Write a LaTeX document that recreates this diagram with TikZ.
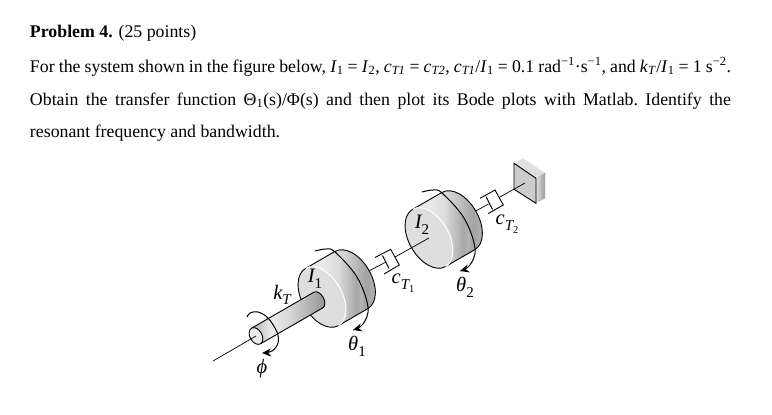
\documentclass[tikz,border=0pt]{standalone}
\usepackage{fontspec}
\setmainfont{Liberation Serif}
\usetikzlibrary{arrows.meta}
\pgfdeclarehorizontalshading{diskfront}{100bp}{color(0bp)=(black!12);color(25bp)=(black!12);color(38bp)=(black!8);color(52bp)=(black!14);color(67bp)=(black!34);color(75bp)=(black!26);color(100bp)=(black!26)}
\pgfdeclarehorizontalshading{diskrear}{100bp}{color(0bp)=(black!16);color(25bp)=(black!16);color(36bp)=(black!9);color(52bp)=(black!18);color(67bp)=(black!36);color(75bp)=(black!28);color(100bp)=(black!28)}
\pgfdeclarehorizontalshading{shaftshade}{100bp}{color(0bp)=(black!30);color(25bp)=(black!30);color(38bp)=(black!8);color(50bp)=(black!15);color(75bp)=(black!42);color(100bp)=(black!42)}
\pgfdeclarehorizontalshading{wallshade}{100bp}{color(0bp)=(black!12);color(25bp)=(black!12);color(75bp)=(black!40);color(100bp)=(black!40)}
\tikzset{
  line/.style={draw=black,line width=0.9pt},
  thin line/.style={draw=black,line width=0.7pt},
  spin/.style={draw=black,line width=1pt,-{Stealth[length=9pt,width=8pt]}},
  body/.style={anchor=base west,inner sep=0pt,outer sep=0pt,font=\fontsize{17.8}{20}\selectfont},
  lab/.style={inner sep=0pt,font=\fontsize{20.5}{24}\selectfont\itshape}
}
\newcommand\subT[1]{\textsubscript{\textit{#1}}}
\newcommand\lsub[1]{\raisebox{-0.28em}{\fontsize{15}{16}\selectfont #1}}
\newcommand\lsubb[2]{\raisebox{-0.28em}{\fontsize{15}{16}\selectfont #1\raisebox{-0.2em}{\fontsize{10.5}{11}\selectfont\upshape #2}}}
\newcommand\diskat[2]{%
  \begin{scope}[shift={(#1,#2)},rotate=-60,x=1pt,y=1pt]
    \path[shading=diskrear] (-33,0) -- (-33,34) arc[start angle=180,end angle=0,x radius=33,y radius=20] -- (33,0) -- cycle;
    \path[shading=diskfront] (-33,0) -- (-33,20) arc[start angle=180,end angle=0,x radius=33,y radius=20] -- (33,0) -- cycle;
    \draw[line] (-33,0) -- (-33,34) arc[start angle=180,end angle=0,x radius=33,y radius=20] -- (33,0);
    \fill[black!13] (0,0) ellipse[x radius=33,y radius=20];
    \draw[white,line width=1pt] (-33,0) arc[start angle=180,end angle=0,x radius=33,y radius=20];
    \draw[line] (33,0) arc[start angle=0,end angle=-180,x radius=33,y radius=20];
  \end{scope}
  \draw[spin] plot[smooth,tension=0.6] coordinates {(#1-7,#2-46) (#1+4,#2-48) (#1+13,#2-45) (#1+35,#2-20) (#1+46,#2+10) (#1+41,#2+27) (#1+31,#2+33)};
}
\begin{document}
\begin{tikzpicture}[x=1pt,y=-1pt]
\useasboundingbox (0,0) rectangle (772,415);
\fill[white] (0,0) rectangle (772,415);

% text
\node[body] (t1) at (30,37) {\textbf{Problem 4.} (25 points)};
\node[body] (t2) at (30,72) {\makebox[701pt][s]{For the system shown in the figure below, \textit{I}\textsubscript{1} = \textit{I}\textsubscript{2}, \textit{c}\subT{T1} = \textit{c}\subT{T2}, \textit{c}\subT{T1}/\textit{I}\textsubscript{1} = 0.1 rad\textsuperscript{−1}·s\textsuperscript{−1}, and \textit{k}\subT{T}/\textit{I}\textsubscript{1} = 1 s\textsuperscript{−2}.}};
\node[body] (t3) at (30,105) {\makebox[701pt][s]{Obtain the transfer function Θ\textsubscript{1}(s)/Φ(s) and then plot its Bode plots with Matlab.\ Identify the}};
\node[body] (t4) at (30,137) {resonant frequency and bandwidth.};

% connection points
\coordinate (free) at (213,361);
\coordinate (shaftend) at (256,336);
\coordinate (b1) at (365,273);
\coordinate (pa1) at (386,262);
\coordinate (ra1) at (395,257);
\coordinate (f2) at (429,238);
\coordinate (b2) at (474,212);
\coordinate (pa2) at (488.5,204);
\coordinate (ra2) at (499,197.5);
\coordinate (wallc) at (525,183);

% rear links (behind the disks)
\draw[thin line] (b1) -- (pa1);
\draw[thin line] (b2) -- (pa2);

% disks
\diskat{322}{297}
\diskat{429}{238}
\draw[thin line] (ra1) -- (f2);

% dashpot 1
\draw[line] (375,257.5) -- (390.7,249.3) -- (399.3,265) -- (384,274);
\draw[line] (382.5,255.5) -- (389,268.5);
% dashpot 2
\draw[line] (480,198.3) -- (495,190) -- (503.3,205) -- (488.3,213.5);
\draw[line] (486,196.5) -- (492.5,209.5);

% wall
\fill[black!12] (514,163.3) -- (522.7,158.3) -- (545,172.7) -- (536,178.3) -- cycle;
\path[shading=wallshade] (536,178.3) -- (545,172.7) -- (545,198.3) -- (536,203.3) -- cycle;
\fill[black!20] (514,163.3) -- (536,178.3) -- (536,203.3) -- (514,189.3) -- cycle;
\draw[line] (514,163.3) -- (536,178.3) -- (536,203.3) -- (514,189.3) -- cycle;
\draw[thin line] (ra2) -- (wallc);

% input shaft
\begin{scope}[shift={(256,336)},rotate=-60,x=1pt,y=1pt]
  \path[shading=shaftshade] (-9,0) -- (-9,72) arc[start angle=180,end angle=0,x radius=9,y radius=5.5] -- (9,0) -- cycle;
  \draw[line] (-9,0) -- (-9,72) arc[start angle=180,end angle=0,x radius=9,y radius=5.5] -- (9,0);
  \draw[line,fill=black!8] (0,0) ellipse[x radius=9,y radius=6];
\end{scope}
\draw[thin line] (free) -- (shaftend);
\draw[spin] plot[smooth,tension=0.6] coordinates {(247,317) (250,313) (258,312) (268,318) (277,332) (278,343) (272,351) (262,353)};

% labels
\node[lab] (li1) at (315,279) {I\lsub{\upshape 1}};
\node[lab] (li2) at (422,225) {I\lsub{\upshape 2}};
\node[lab] (lk) at (282,295) {k\lsub{T}};
\node[lab] (lc1) at (403,283) {c\lsubb{T}{1}};
\node[lab] (lc2) at (507,224) {c\lsubb{T}{2}};
\node[lab] (lt1) at (357,346) {θ\lsub{\upshape 1}};
\node[lab] (lt2) at (465,287) {θ\lsub{\upshape 2}};
\node[lab] (lp) at (262,369) {ϕ};
\end{tikzpicture}
\end{document}
